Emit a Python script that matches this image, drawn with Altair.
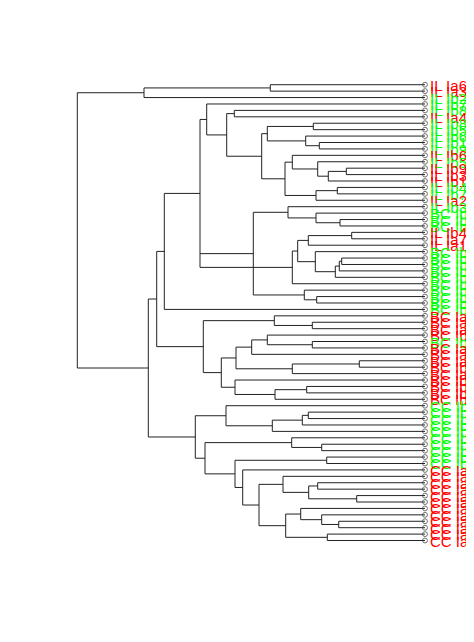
import altair as alt
import pandas as pd

# Leaf labels (top to bottom) and their colour group
labels = [
    "IL Ia6", "IL Ia3", "IL Ib2", "IL Ib7", "IL Ib8", "IL Ia4", "IL Ib8", "IL Ib5", "IL Ib6", "IL Ib1", "IL Ib9",
    "IL Ib6", "IL Ib5", "IL Ib9", "IL Ib3", "IL Ib1", "IL Ib4", "IL Ib7", "IL Ia2", "IL Ib3",
    "BC Ib2", "BC Ib5", "BC Ib1",
    "IL Ib4", "IL Ia7", "IL Ia1",
    "BC Ib5", "BC Ib3", "BC Ib4", "BC Ib6", "BC Ib2", "BC Ib8", "BC Ib7", "BC Ib1", "BC Ib9", "BC Ib3",
    "BC Ia6", "BC Ia3", "BC Ia2", "BC Ib6", "BC Ib4", "BC Ia4", "BC Ia5", "BC Ia1", "BC Ib2", "BC Ia7",
    "BC Ib3", "BC Ib3", "BC Ib4", "BC Ib1",
    "CC Ib1", "CC Ib5", "CC Ib3", "CC Ib2", "CC Ib6", "CC Ib4", "CC Ib8", "CC Ib7", "CC Ib9", "CC Ib3",
    "CC Ia3", "CC Ia6", "CC Ia2", "CC Ia4", "CC Ia7", "CC Ia1", "CC Ia5", "CC Ia3", "CC Ia2", "CC Ia4",
    "CC Ia5", "CC Ia1",
]
label_groups = list(
    "rrgggrggggg"      # 0-10
    "rgrrrggrg"        # 11-19
    "ggg"              # 20-22
    "rrr"              # 23-25
    "gggggggggg"       # 26-35
    "rrrrgrrrrrrrrr"   # 36-49
    "gggggggggg"       # 50-59
    "rrrrrrrrrrrr"     # 60-71
)

# Merges: children (L# = leaf, M# = earlier merge) and merge heights
merge_children = [
    ["L0", "L1"], ["M0", "L2"], ["L4", "L5"], ["L6", "L7"], ["L9", "L10"],
    ["L8", "M4"], ["M3", "M5"], ["L13", "L14"], ["M7", "L15"], ["L12", "M8"],
    ["L11", "M9"], ["L16", "L17"], ["M11", "L18"], ["M10", "M12"], ["M6", "M13"],
    ["M2", "M14"], ["L3", "M15"], ["L21", "L22"], ["L20", "M17"], ["L19", "M18"],
    ["L33", "L34"], ["L32", "M20"], ["M19", "M21"], ["L23", "L24"], ["M23", "L25"],
    ["L27", "L28"], ["M25", "L29"], ["M26", "L30"], ["L26", "M27"], ["M24", "M28"],
    ["M29", "L31"], ["M16", "M22", "M30"], ["M31", "L35"], ["L37", "L38"], ["L36", "M33"],
    ["L40", "L41"], ["L39", "M35"], ["M36", "L42"], ["L43", "L44"], ["M38", "L45"],
    ["M37", "M39"], ["L47", "L48"], ["M41", "L49"], ["L46", "M42"], ["M40", "M43"],
    ["M34", "M44"], ["M32", "M45"], ["L51", "L52"], ["M47", "L53"], ["M48", "L54"],
    ["L50", "M49"], ["L56", "L57"], ["L55", "M51"], ["L58", "L59"], ["L62", "L63"],
    ["L64", "L65"], ["M54", "M55"], ["L61", "M56"], ["L68", "L69"], ["L67", "M58"],
    ["L66", "M59"], ["L70", "L71"], ["M60", "M61"], ["M57", "M62"], ["L60", "M63"],
    ["M53", "M64"], ["M52", "M65"], ["M50", "M66"], ["M46", "M67"], ["M1", "M68"],
]
merge_heights = [
    1.547, 2.810, 1.907, 1.117, 1.057, 1.193, 1.577, 0.787, 0.967, 1.073,
    1.327, 0.877, 1.090, 1.400, 1.633, 1.983, 2.183, 0.850, 1.090, 1.370,
    1.083, 1.207, 1.717, 0.733, 1.167, 0.833, 0.857, 0.897, 1.097, 1.273,
    1.327, 2.250, 2.607, 1.127, 1.507, 1.127, 1.577, 1.733, 0.657, 1.327,
    1.890, 1.183, 1.500, 1.900, 2.037, 2.217, 2.683, 1.167, 1.227, 1.527,
    1.990, 1.033, 1.333, 0.983, 1.073, 0.683, 1.163, 1.420, 0.863, 1.033,
    1.243, 0.977, 1.393, 1.660, 1.823, 1.900, 2.200, 2.297, 2.767, 3.477,
]

# ---- build segments from the tree ----
pos = {}
hgt = {}
for i in range(len(labels)):
    pos[f"L{i}"] = float(i)
    hgt[f"L{i}"] = 0.0

segs = []
for k, (ch, h) in enumerate(zip(merge_children, merge_heights)):
    ys = [pos[c] for c in ch]
    for c in ch:
        segs.append({"h": hgt[c], "h2": h, "p": pos[c], "p2": pos[c]})
    segs.append({"h": h, "h2": h, "p": min(ys), "p2": max(ys)})
    pos[f"M{k}"] = (min(ys) + max(ys)) / 2
    hgt[f"M{k}"] = h

seg_df = pd.DataFrame(segs)
leaf_df = pd.DataFrame({
    "h": [0.0] * len(labels),
    "p": list(range(len(labels))),
    "label": labels,
    "grp": label_groups,
})

xs = alt.Scale(domain=[-0.41, 4.17], reverse=True)
ys = alt.Scale(domain=[-11.95, 81.51], reverse=True)

lines = alt.Chart(seg_df).mark_rule(color="#222222", strokeWidth=1).encode(
    x=alt.X("h:Q", scale=xs, axis=None),
    x2="h2:Q",
    y=alt.Y("p:Q", scale=ys, axis=None),
    y2="p2:Q",
)

pts = alt.Chart(leaf_df).mark_point(
    shape="circle", filled=False, size=24, color="#333333", strokeWidth=1
).encode(
    x=alt.X("h:Q", scale=xs, axis=None),
    y=alt.Y("p:Q", scale=ys, axis=None),
)

txt = alt.Chart(leaf_df).mark_text(
    align="left", baseline="middle", dx=5, dy=1, fontSize=15, font="Liberation Sans"
).encode(
    x=alt.X("h:Q", scale=xs, axis=None),
    y=alt.Y("p:Q", scale=ys, axis=None),
    text="label:N",
    color=alt.Color("grp:N", scale=alt.Scale(domain=["r", "g"], range=["#FF0000", "#00FF00"]), legend=None),
)

chart = alt.layer(lines, pts, txt).properties(
    width=458, height=600,
    autosize=alt.AutoSizeParams(type="none"),
    padding=0,
).configure_view(stroke=None)

chart.save("out.html", embed_options={"renderer": "svg", "actions": False})
